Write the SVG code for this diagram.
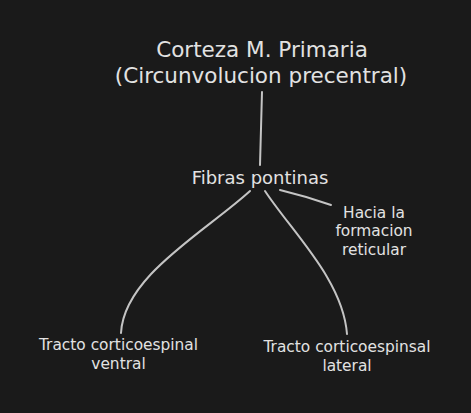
<svg xmlns="http://www.w3.org/2000/svg" width="471" height="413" viewBox="0 0 471 413">
<style>
text{font-family:"DejaVu Sans","Noto Sans",sans-serif;fill:#e2e2e2;text-anchor:middle}
.t1{font-size:21.5px}
.t2{font-size:18px}
.t3{font-size:15.4px}
.c{fill:none;stroke:#c4c4c4;stroke-width:2;stroke-linecap:round}
</style>
<rect width="471" height="413" fill="#1a1a1a"/>
<g id="connectors">
<path class="c" d="M262,92 L260,165"/>
<path class="c" d="M250,191 C205,232 124,276 121,333"/>
<path class="c" d="M265,191 C292,232 343,280 347,334"/>
<path class="c" d="M280,190 Q305,196 331,205"/>
</g>
<g id="corteza">
<text class="t1" x="262" y="57">Corteza M. Primaria</text>
<text class="t1" x="261" y="83">(Circunvolucion precentral)</text>
</g>
<g id="fibras">
<text class="t2" x="260" y="184">Fibras pontinas</text>
</g>
<g id="reticular">
<text class="t3" x="374" y="217.5">Hacia la</text>
<text class="t3" x="374" y="236.3">formacion</text>
<text class="t3" x="374" y="255">reticular</text>
</g>
<g id="ventral">
<text class="t3" x="118.5" y="350">Tracto corticoespinal</text>
<text class="t3" x="118.5" y="369.3">ventral</text>
</g>
<g id="lateral">
<text class="t3" x="347" y="351.7">Tracto corticoespinsal</text>
<text class="t3" x="347" y="370.7">lateral</text>
</g>
</svg>
